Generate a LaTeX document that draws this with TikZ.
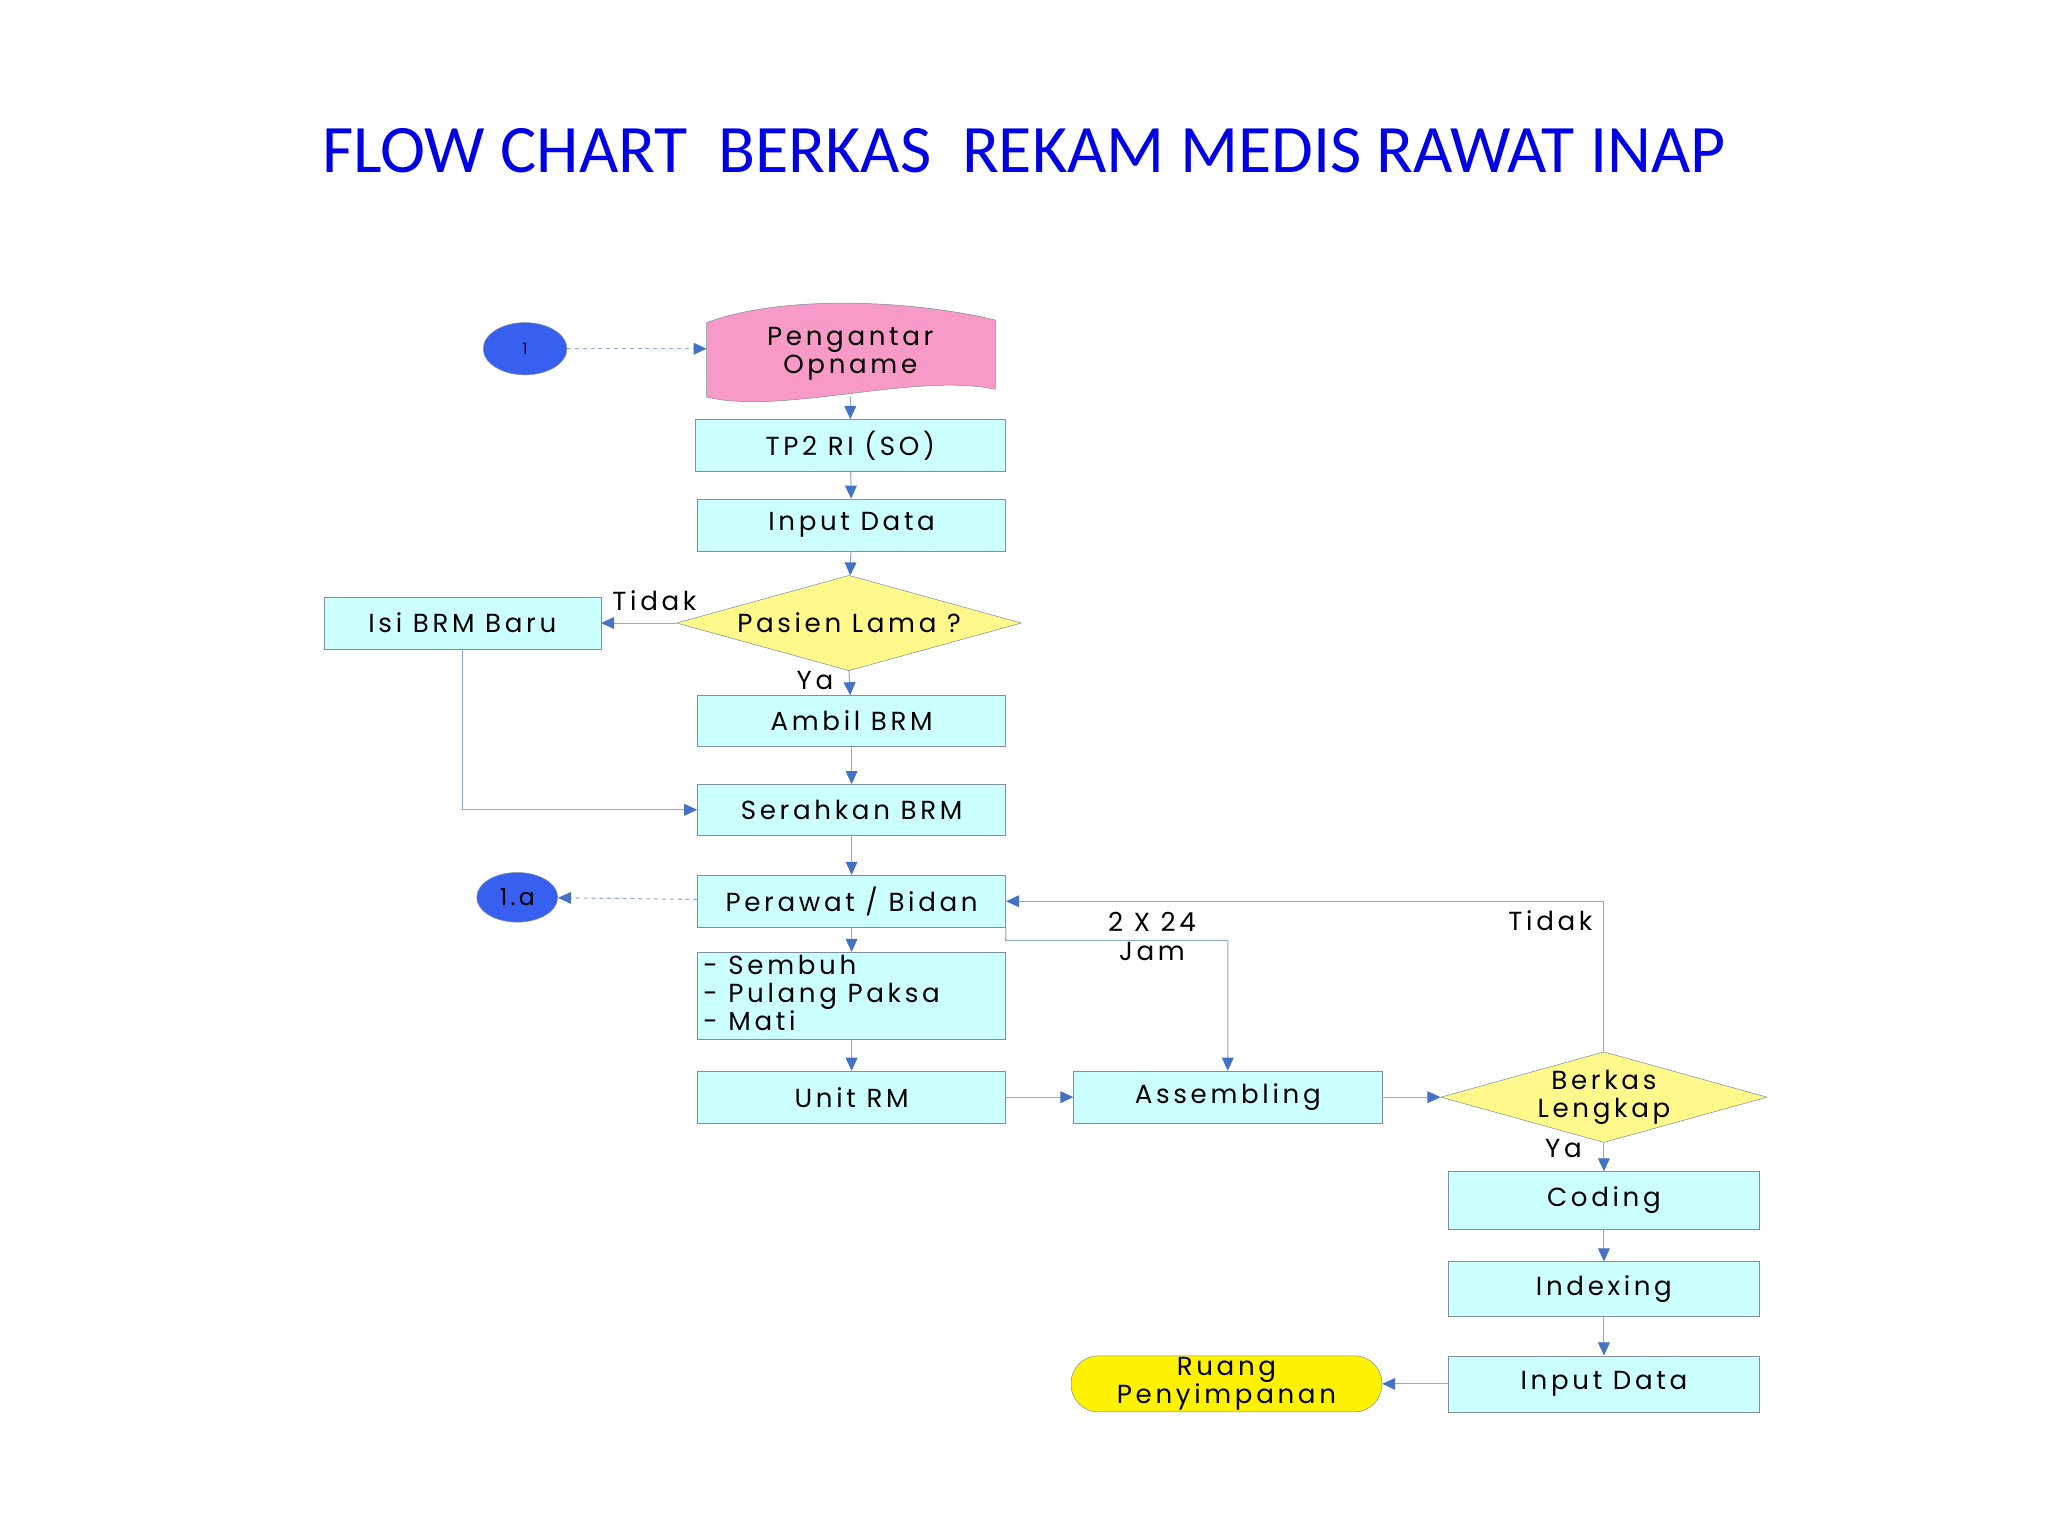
\documentclass[tikz,border=0pt]{standalone}
\usepackage{fontspec}
\setmainfont{Poppins}[LetterSpace=14]
\newfontfamily\titlefont{Carlito}
\usetikzlibrary{shapes.geometric,arrows.meta}
\definecolor{boxfill}{HTML}{CCFFFF}
\definecolor{boxline}{HTML}{7F8FA0}
\definecolor{conn}{HTML}{8FA8CC}
\definecolor{tip}{HTML}{4472C4}
\definecolor{blueov}{HTML}{3760F0}
\definecolor{pinkf}{HTML}{F79AC8}
\begin{document}
\begin{tikzpicture}[x=1pt,y=-1pt,
  box/.style={draw=boxline,fill=boxfill,minimum height=40pt,inner sep=0pt,font=\fontsize{20}{20}\selectfont},
  dia/.style={diamond,draw=boxline,fill=yellow!45,aspect=3.6,inner sep=0pt,align=center,font=\fontsize{20}{18}\selectfont},
  ov/.style={ellipse,draw=boxline,fill=blueov,inner sep=0pt,font=\fontsize{18}{18}\selectfont},
  con/.style={draw=conn,line width=0.8pt,-{Triangle[length=10pt,width=9pt,fill=tip,color=tip]}},
  lab/.style={font=\fontsize{20}{20}\selectfont,align=center}]
\useasboundingbox (0,0) rectangle (1568,1176);
\node[font=\titlefont\fontsize{52}{52}\selectfont,text=blue!90!black] (title) at (784,115) {FLOW CHART\ \ BERKAS\ \ REKAM MEDIS RAWAT INAP};
% shapes
\node[ov,minimum width=64pt,minimum height=40pt,font=\fontsize{12}{12}\selectfont] (c1) at (402,267) {1};
\fill[pinkf,draw=boxline] (541,247) .. controls (600,225) and (700,230) .. (762,245) -- (762,298)
  .. controls (700,285) and (600,318) .. (541,304) -- cycle;
\node[lab,font=\fontsize{20}{21}\selectfont] (peng) at (651,271) {Pengantar\\Opname};
\node[box,minimum width=238pt] (tp2) at (651,341) {TP2 RI (SO)};
\node[box,minimum width=236pt] (in1) at (652,402) {Input Data};
\node[dia,minimum width=264pt,minimum height=73pt] (pas) at (650,477) {Pasien Lama ?};
\node[box,minimum width=212pt] (isi) at (354,477) {Isi BRM Baru};
\node[box,minimum width=236pt,minimum height=39pt] (amb) at (652,552) {Ambil BRM};
\node[box,minimum width=236pt,minimum height=39pt] (ser) at (652,620) {Serahkan BRM};
\node[box,minimum width=236pt] (per) at (652,690) {Perawat / Bidan};
\node[ov,minimum width=62pt,minimum height=38pt] (c1a) at (396,687) {1.a};
\node[box,minimum width=236pt,minimum height=67pt] (sem) at (652,762.5) {};
\node[lab,align=left,anchor=north west,font=\fontsize{20}{21.5}\selectfont] (semt) at (535,728) {- Sembuh\\- Pulang Paksa\\- Mati};
\node[box,minimum width=236pt] (unit) at (652,840) {Unit RM};
\node[box,minimum width=236pt] (ass) at (940,840) {Assembling};
\node[dia,minimum width=236pt,minimum height=67pt,font=\fontsize{20}{21}\selectfont] (ber) at (1228,840) {Berkas\\Lengkap};
\node[box,minimum width=238pt,minimum height=44pt] (cod) at (1228,919) {Coding};
\node[box,minimum width=238pt,minimum height=42pt] (idx) at (1228,987) {Indexing};
\node[box,minimum width=238pt,minimum height=43pt] (in2) at (1228,1059.5) {Input Data};
\node[draw=boxline,fill=yellow,rounded corners=21pt,minimum width=238pt,minimum height=43pt,inner sep=0pt,align=center,font=\fontsize{20}{21}\selectfont] (ruang) at (939,1059.5) {Ruang\\Penyimpanan};
% connectors
\coordinate (pb) at (651,304);
\coordinate (pl) at (541,267);
\draw[con,dashed] (c1) -- (pl);
\draw[con] (pb) -- (tp2);
\draw[con] (tp2) -- (in1);
\draw[con] (in1) -- (pas);
\draw[con] (pas) -- (isi);
\draw[con] (pas.south) -- (amb);
\draw[con] (amb) -- (ser);
\draw[con] (isi.south) |- (ser.west);
\draw[con] (ser) -- (per);
\draw[con,dashed] (per) -- (c1a);
\draw[con] (per) -- (sem);
\draw[con] (sem) -- (unit);
\draw[con] (unit) -- (ass);
\coordinate (k1) at (770,720);
\draw[con] (per.south east) -- (k1) -| (ass.north);
\draw[con] (ass) -- (ber);
\draw[con] (ber.north) |- (per.east);
\draw[con] (ber.south) -- (cod);
\draw[con] (cod) -- (idx);
\draw[con] (idx) -- (in2);
\draw[con] (in2) -- (ruang);
% labels
\node[lab] (t1) at (501,460) {Tidak};
\node[lab] (y1) at (624,521) {Ya};
\node[lab,font=\fontsize{20}{22}\selectfont] (jam) at (882,717) {2 X 24\\Jam};
\node[lab] (t2) at (1187,705) {Tidak};
\node[lab] (y2) at (1197,879) {Ya};
\end{tikzpicture}
\end{document}
